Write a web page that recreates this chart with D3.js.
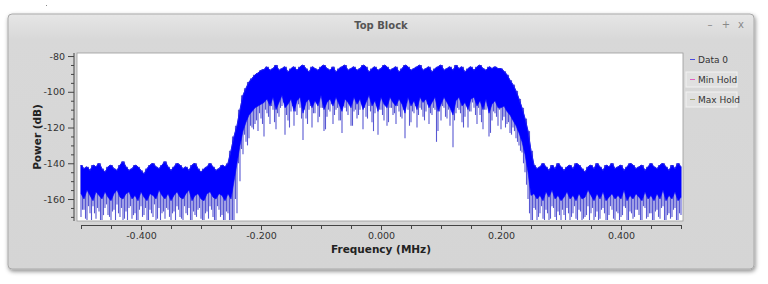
<!DOCTYPE html>
<html>
<head>
<meta charset="utf-8">
<script src="https://cdn.jsdelivr.net/npm/d3@7"></script>
<style>
  html, body { margin: 0; padding: 0; background: #ffffff; }
  svg { display: block; }
  text { font-family: "DejaVu Sans", sans-serif; }
</style>
</head>
<body>
<svg id="chart" width="768" height="284"></svg>
<script>
// ---------------- DATA ----------------
const windowTitle = "Top Block";
const xTitle = "Frequency (MHz)";
const yTitle = "Power (dB)";
const xTickValues = [-0.4, -0.2, 0.0, 0.2, 0.4];
const yTickValues = [-160, -140, -120, -100, -80];
const legendLabels = ["Data 0", "Min Hold", "Max Hold"];

// spectrum: bins every 0.005 MHz from -0.5 to 0.5 (201 bins)
const binStart = -0.5, binStep = 0.005;
// upper edge of trace (dB)
const topEnvelope = [
  -141,-143,-142,-144,-141,-142,-140,-143,-145,-142,
  -141,-143,-144,-141,-139,-142,-144,-143,-141,-142,
  -144,-146,-143,-141,-140,-142,-143,-141,-139,-142,
  -144,-142,-140,-141,-143,-142,-144,-141,-140,-143,
  -145,-143,-142,-140,-142,-144,-143,-141,-142,-140,
  -133,-125,-119,-110,-102,-98,-94.5,-92.5,-90.5,-89.5,-88,-87.5,
  -86,-88,-87,-85,-88,-87,-86,-89,-87,-86,
  -88,-86,-85,-87,-89,-86,-87,-88,-86,-85,
  -87,-88,-86,-89,-87,-86,-85,-88,-87,-86,
  -88,-87,-85,-86,-89,-87,-86,-88,-87,-85,
  -86,-88,-87,-86,-89,-87,-85,-86,-88,-87,
  -86,-85,-88,-87,-86,-89,-87,-86,-85,-88,
  -87,-86,-88,-85,-87,-86,-89,-87,-86,-88,
  -86,-85,-87,-88,-86,-87,-86,-87,
  -87,-88.5,-90.5,-93.5,-96,-99.5,-104,-109,-115,-122,-133,
  -141,-143,-142,-140,-142,-144,-141,-143,-140,-142,
  -144,-142,-141,-143,-140,-141,-143,-145,-142,-141,
  -143,-140,-142,-144,-141,-142,-140,-143,-142,-141,
  -144,-142,-140,-141,-143,-142,-141,-144,-142,-140,
  -142,-143,-141,-140,-142,-144,-141,-143,-140,-142
];
// lower edge of the dense core in each bin (dB)
const coreLower = [
  -157,-160,-155,-158,-161,-156,-158,-160,-156,-159,
  -161,-157,-155,-159,-160,-157,-156,-160,-158,-161,
  -156,-159,-161,-157,-158,-160,-155,-158,-160,-157,
  -161,-158,-156,-159,-160,-157,-155,-161,-158,-157,
  -160,-161,-157,-156,-159,-160,-157,-158,-161,-157,
  -160,-150,-140,-130,-122,-117,-113,-111,-109,-108,-107,-106,
  -104,-108,-103,-110,-106,-102,-109,-107,-104,-111,
  -105,-103,-112,-106,-104,-109,-105,-108,-102,-110,
  -106,-104,-108,-103,-107,-111,-104,-106,-109,-103,
  -107,-104,-110,-106,-102,-108,-105,-111,-103,-107,
  -109,-103,-106,-108,-104,-107,-112,-103,-108,-105,
  -110,-103,-106,-104,-109,-106,-103,-111,-107,-103,
  -106,-109,-113,-105,-103,-108,-106,-110,-104,-103,
  -108,-105,-110,-104,-112,-107,-105,-109,
  -109,-108,-111,-113,-116,-119,-123,-128,-135,-145,-158,
  -157,-160,-158,-161,-156,-159,-155,-160,-158,-161,
  -159,-156,-160,-158,-161,-157,-160,-159,-155,-158,
  -161,-157,-160,-156,-161,-159,-157,-160,-158,-160,
  -155,-161,-158,-160,-157,-159,-161,-156,-160,-158,
  -161,-157,-160,-155,-161,-158,-160,-156,-161,-159
];
// deepest dip at each bin (dB)
const dipMin = [
  -170,-166,-172,-168,-164,-171,-167,-172,-165,-169,
  -172,-166,-163,-170,-172,-167,-165,-171,-168,-172,
  -164,-169,-172,-166,-170,-172,-165,-168,-171,-166,
  -172,-167,-164,-170,-172,-168,-165,-172,-169,-166,
  -171,-172,-167,-164,-170,-172,-166,-169,-172,-168,
  -172,-172,-168,-150,-135,-128,-126,-120,-118,-122,-115,-125,
  -112,-118,-110,-121,-114,-108,-124,-116,-111,-119,
  -113,-109,-127,-115,-110,-120,-112,-117,-109,-122,
  -114,-111,-118,-110,-116,-123,-109,-113,-119,-111,
  -115,-110,-121,-114,-108,-117,-112,-124,-110,-116,
  -119,-109,-113,-118,-111,-115,-126,-110,-117,-112,
  -120,-109,-114,-111,-118,-113,-110,-122,-116,-109,
  -115,-119,-131,-112,-110,-117,-114,-120,-111,-109,
  -118,-113,-121,-110,-125,-116,-112,-119,
  -121,-114,-118,-123,-120,-126,-130,-134,-145,-160,-172,
  -165,-172,-168,-171,-166,-172,-164,-170,-167,-172,
  -169,-165,-172,-168,-171,-166,-172,-170,-164,-168,
  -172,-167,-171,-165,-172,-169,-166,-172,-168,-170,
  -164,-172,-167,-171,-166,-169,-172,-165,-170,-168,
  -172,-166,-171,-164,-172,-168,-170,-165,-172,-169
];
// deepest dip half-way between bins (200 values, dB)
const dipMinMid = [
  -166,-171,-164,-172,-168,-165,-172,-169,-163,-170,
  -167,-172,-168,-165,-171,-172,-164,-169,-172,-166,
  -170,-165,-172,-168,-163,-171,-172,-167,-165,-170,
  -168,-172,-166,-171,-164,-169,-172,-167,-170,-165,
  -172,-168,-171,-166,-172,-164,-170,-172,-167,-172,
  -172,-160,-140,-132,-124,-130,-119,-121,-116,-112,-118,
  -110,-114,-108,-117,-112,-109,-106,-113,-120,-108,
  -111,-107,-115,-110,-118,-108,-112,-106,-114,-109,
  -121,-110,-107,-113,-109,-116,-108,-111,-106,-119,
  -110,-113,-107,-109,-115,-111,-122,-108,-110,-113,
  -107,-117,-109,-112,-108,-114,-110,-106,-119,-111,
  -108,-113,-110,-116,-107,-112,-109,-128,-111,-108,
  -114,-110,-107,-116,-109,-112,-120,-108,-111,-106,
  -113,-109,-117,-110,-108,-123,-111,-114,-110,
  -116,-120,-117,-124,-122,-128,-133,-140,-152,-168,
  -172,-166,-170,-164,-172,-168,-171,-165,-172,-169,
  -166,-172,-168,-170,-164,-172,-167,-171,-169,-172,
  -165,-170,-172,-166,-168,-172,-164,-171,-167,-172,
  -169,-165,-172,-168,-170,-166,-172,-164,-171,-168,
  -172,-167,-170,-165,-172,-169,-171,-166,-172,-168
];

// ---------------- CHART ----------------
const svg = d3.select("#chart");
const defs = svg.append("defs");

const shadow = defs.append("filter").attr("id", "shadow")
  .attr("x", "-5%").attr("y", "-10%").attr("width", "110%").attr("height", "125%");
shadow.append("feDropShadow").attr("dx", 1).attr("dy", 2)
  .attr("stdDeviation", 2.2).attr("flood-color", "#000").attr("flood-opacity", 0.45);

const grad = defs.append("linearGradient").attr("id", "winGrad")
  .attr("x1", 0).attr("y1", 0).attr("x2", 0).attr("y2", 1);
grad.append("stop").attr("offset", "0%").attr("stop-color", "#e6e6e6");
grad.append("stop").attr("offset", "10%").attr("stop-color", "#d8d8d8");
grad.append("stop").attr("offset", "100%").attr("stop-color", "#d5d5d5");

svg.append("rect").attr("x", 46).attr("y", 5).attr("width", 1).attr("height", 1).attr("fill", "#888");

svg.append("rect")
  .attr("x", 8).attr("y", 14).attr("width", 746).attr("height", 255)
  .attr("rx", 4).attr("fill", "url(#winGrad)")
  .attr("stroke", "#a9a9a9").attr("stroke-width", 1)
  .attr("filter", "url(#shadow)");

svg.append("text").attr("x", 381).attr("y", 29)
  .attr("text-anchor", "middle").attr("font-size", 10).attr("font-weight", "bold")
  .attr("fill", "#555").text(windowTitle);

const ctrl = [["\u2013", 710], ["+", 726], ["x", 741]];
svg.selectAll("text.ctrl").data(ctrl).join("text")
  .attr("class", "ctrl").attr("x", d => d[1]).attr("y", 28)
  .attr("text-anchor", "middle").attr("font-size", 10).attr("fill", "#888")
  .text(d => d[0]);

const canvas = { x: 77, y: 53, w: 606, h: 168 };
svg.append("rect").attr("x", canvas.x).attr("y", canvas.y)
  .attr("width", canvas.w).attr("height", canvas.h)
  .attr("fill", "#ffffff").attr("stroke", "#9a9a9a").attr("stroke-width", 0.8);

defs.append("clipPath").attr("id", "plotClip").append("rect")
  .attr("x", canvas.x + 1).attr("y", canvas.y + 1)
  .attr("width", canvas.w - 2).attr("height", canvas.h - 2);

const x = d3.scaleLinear().domain([-0.5, 0.5]).range([81, 681]);
const y = d3.scaleLinear().domain([-172.3, -78.3]).range([221, 53]);

const bins = topEnvelope.map((v, i) => ({
  f: binStart + i * binStep, top: v, core: coreLower[i], dip: dipMin[i]
}));
const mids = dipMinMid.map((v, i) => ({
  f: binStart + (i + 0.5) * binStep,
  top: Math.max(topEnvelope[i], topEnvelope[i + 1]), dip: v
}));

const plot = svg.append("g").attr("clip-path", "url(#plotClip)");

// dips (thin lighter lines)
plot.selectAll("line.dip").data(bins.concat(mids)).join("line")
  .attr("class", "dip")
  .attr("x1", d => x(d.f)).attr("x2", d => x(d.f))
  .attr("y1", d => y(d.top)).attr("y2", d => y(d.dip))
  .attr("stroke", "#2020c4").attr("stroke-width", 1.1).attr("stroke-opacity", 0.75);

// dense core between top envelope and core lower edge
const area = d3.area().x(d => x(d.f)).y0(d => y(d.core)).y1(d => y(d.top));
plot.append("path").datum(bins).attr("d", area)
  .attr("fill", "#0000ff").attr("stroke", "#0000ff").attr("stroke-width", 0.6);

// top jagged edge
plot.append("path").datum(bins)
  .attr("d", d3.line().x(d => x(d.f)).y(d => y(d.top)))
  .attr("fill", "none").attr("stroke", "#2020f0").attr("stroke-width", 1);

// axes
const axisColor = "#444";
const labelColor = "#333";
const hyphen = fmt => d => fmt(d).replace("\u2212", "-");

function styleAxis(g) {
  g.selectAll("path.domain").attr("stroke", axisColor);
  g.selectAll(".tick line").attr("stroke", axisColor);
  g.selectAll(".tick text").attr("fill", labelColor).attr("font-size", 9.5)
    .attr("font-family", "DejaVu Sans, sans-serif");
}

const yMinor = d3.range(-170, -75, 5).filter(v => v % 20 !== 0);
const gyMinor = svg.append("g").attr("transform", "translate(74,0)")
  .call(d3.axisLeft(y).tickValues(yMinor).tickSize(3).tickSizeOuter(0).tickFormat(""));
styleAxis(gyMinor);
gyMinor.select("path.domain").remove();
const gy = svg.append("g").attr("transform", "translate(74,0)")
  .call(d3.axisLeft(y).tickValues(yTickValues).tickSize(6).tickSizeOuter(0).tickPadding(3)
    .tickFormat(hyphen(d3.format("d"))));
styleAxis(gy);
gy.select("path.domain").attr("d", "M0,53V221");

const xMinor = d3.range(-0.5, 0.5001, 0.05).map(v => +v.toFixed(2))
  .filter(v => !xTickValues.some(t => Math.abs(t - v) < 1e-6));
const gxMinor = svg.append("g").attr("transform", "translate(0,225)")
  .call(d3.axisBottom(x).tickValues(xMinor).tickSize(4).tickSizeOuter(0).tickFormat(""));
styleAxis(gxMinor);
gxMinor.select("path.domain").remove();
const gx = svg.append("g").attr("transform", "translate(0,225)")
  .call(d3.axisBottom(x).tickValues(xTickValues).tickSize(5).tickSizeOuter(0).tickPadding(2)
    .tickFormat(hyphen(d3.format(".3f"))));
styleAxis(gx);

svg.append("text").attr("x", 381).attr("y", 253)
  .attr("text-anchor", "middle").attr("font-size", 10.5).attr("font-weight", "bold")
  .attr("fill", "#222").text(xTitle);
svg.append("text").attr("transform", "translate(41,137) rotate(-90)")
  .attr("text-anchor", "middle").attr("font-size", 10.5).attr("font-weight", "bold")
  .attr("fill", "#222").text(yTitle);

// legend
const legendColors = ["#4a4ae0", "#e060c0", "#a8a878"];
const legendBoxed = [false, true, true];
const lg = svg.selectAll("g.leg").data(legendLabels).join("g")
  .attr("class", "leg").attr("transform", (d, i) => `translate(686,${52 + i * 20})`);
lg.filter((d, i) => legendBoxed[i]).append("rect")
  .attr("x", 0).attr("y", 0).attr("width", 51).attr("height", 15)
  .attr("fill", "#e0e0e0").attr("stroke", "#f2f2f2").attr("stroke-width", 1);
lg.append("line").attr("x1", 4).attr("x2", 9).attr("y1", 7.5).attr("y2", 7.5)
  .attr("stroke", (d, i) => legendColors[i]).attr("stroke-width", 1);
lg.append("text").attr("x", 12).attr("y", 11).attr("font-size", 9)
  .attr("fill", labelColor).text(d => d);
</script>
</body>
</html>
